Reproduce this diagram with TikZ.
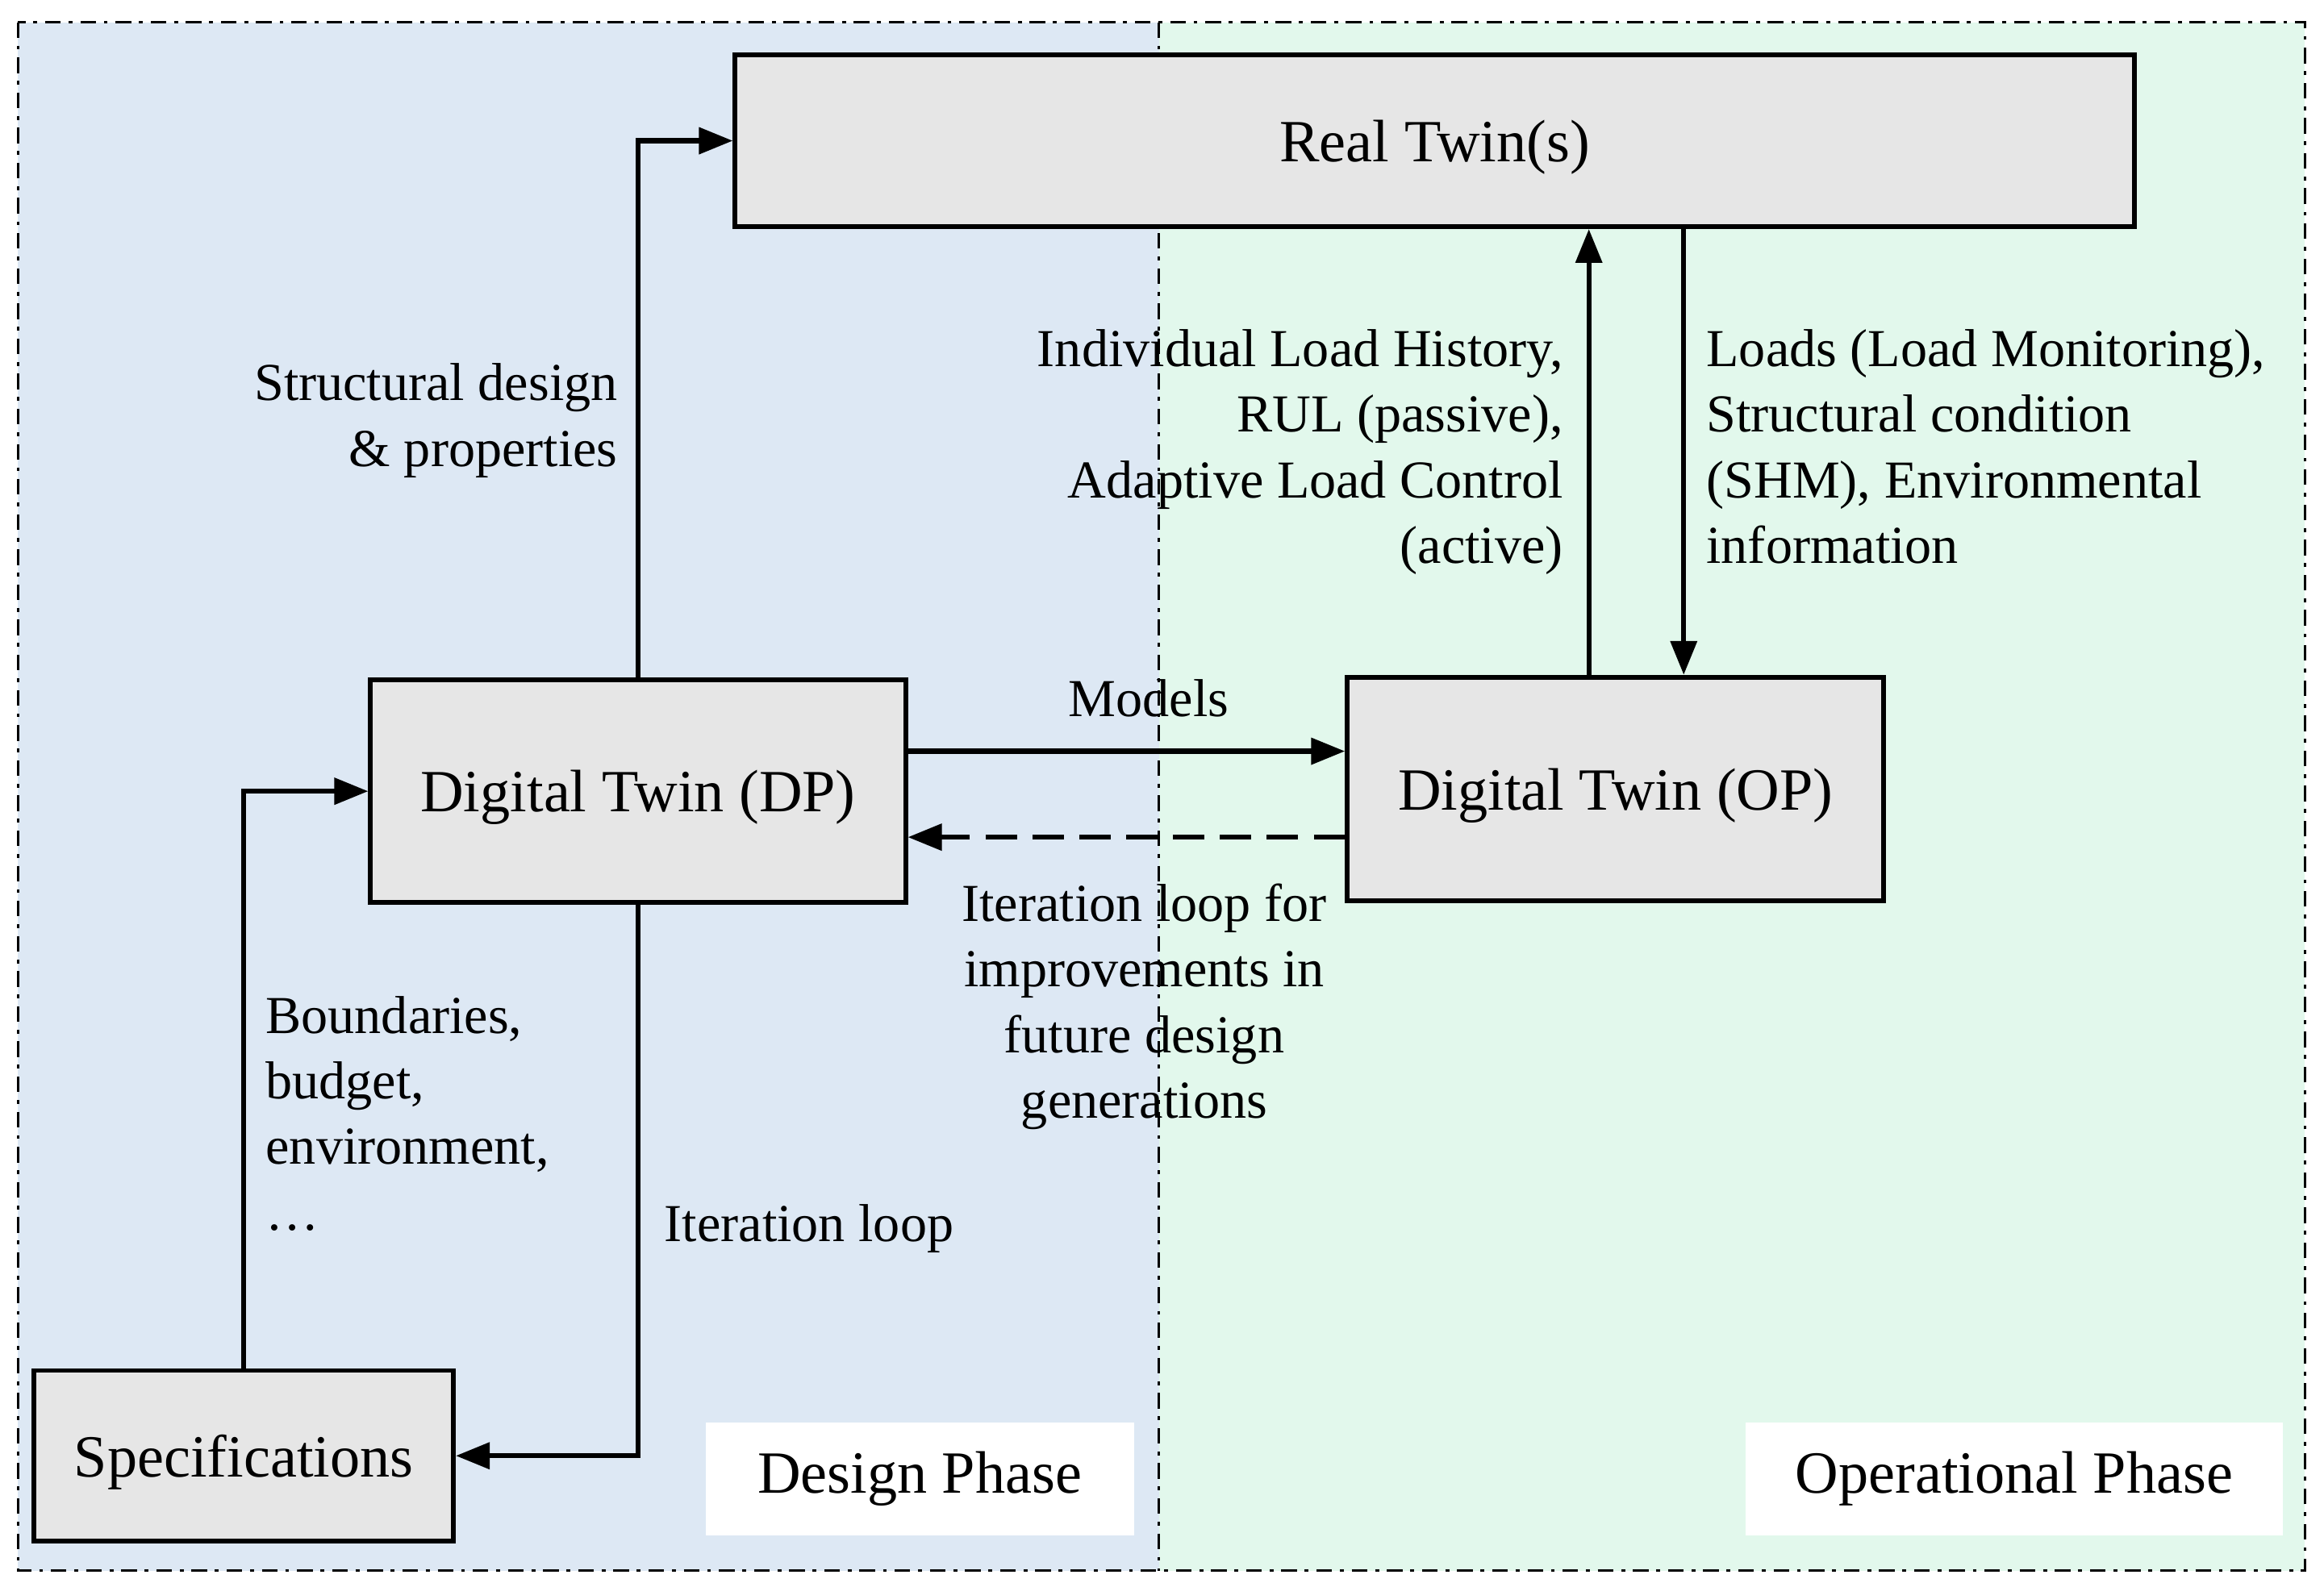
\documentclass[tikz,border=0pt]{standalone}
\usepackage{fontspec}
\setmainfont{Liberation Serif}
\usetikzlibrary{arrows.meta}
\definecolor{bluebg}{HTML}{DDE8F4}
\definecolor{greenbg}{HTML}{E2F8EC}
\definecolor{boxfill}{HTML}{E6E6E6}
\begin{document}
\begin{tikzpicture}[x=0.02cm,y=-0.02cm,
  box/.style={draw,line width=1.8pt,fill=boxfill,inner sep=0pt,font=\fontsize{23}{28}\selectfont,text depth=-2pt},
  arr/.style={line width=1.9pt,-{Triangle[length=13pt,width=10pt]}},
  lbl/.style={font=\fontsize{20.5}{25.2}\selectfont,inner sep=0pt},
  frame/.style={line width=0.9pt,dash pattern=on 6pt off 3pt on 1.5pt off 3pt}]
\useasboundingbox (0,0) rectangle (1568,1068);
\fill[bluebg] (12,15) rectangle (782,1060);
\fill[greenbg] (782,15) rectangle (1555,1060);
\draw[frame] (12,15) rectangle (1555,1060);
\draw[frame] (782,15) -- (782,1060);
\node[fill=white,minimum width=289*0.02cm,minimum height=76*0.02cm,inner sep=0pt,font=\fontsize{23}{28}\selectfont] (dph) at (620.5,998) {Design Phase};
\node[fill=white,minimum width=362*0.02cm,minimum height=76*0.02cm,inner sep=0pt,font=\fontsize{23}{28}\selectfont] (oph) at (1359,998) {Operational Phase};
\node[box,minimum width=944*0.02cm,minimum height=116*0.02cm] (rt) at (968,95) {Real Twin(s)};
\node[box,minimum width=361*0.02cm,minimum height=150*0.02cm] (dp) at (430.5,534) {Digital Twin (DP)};
\node[box,minimum width=362*0.02cm,minimum height=151*0.02cm] (op) at (1090,532.5) {Digital Twin (OP)};
\node[box,minimum width=283*0.02cm,minimum height=115*0.02cm] (sp) at (164.5,982.5) {Specifications};
\draw[arr] (dp.north) |- (rt.west);
\draw[arr] (sp.north) |- (dp.west);
\draw[arr] (dp.south) |- (sp.east);
\draw[arr] (dp.east |- 0,507) -- (op.west |- 0,507);
\draw[arr,dash pattern=on 12pt off 6pt] (op.west |- 0,565) -- (dp.east |- 0,565);
\draw[arr] (op.north -| 1072,0) -- (rt.south -| 1072,0);
\draw[arr] (rt.south -| 1136,0) -- (op.north -| 1136,0);
\node[lbl,align=right,anchor=north east] (l1) at (417,245) {Structural design\\\& properties};
\node[lbl,align=right,anchor=north east] (l2) at (1055,222) {Individual Load History,\\RUL (passive),\\Adaptive Load Control\\(active)};
\node[lbl,align=left,anchor=north west] (l3) at (1151,222) {Loads (Load Monitoring),\\Structural condition\\(SHM), Environmental\\information};
\node[lbl] (l4) at (775,471) {Models};
\node[lbl,align=center,anchor=north] (l5) at (772,596) {Iteration loop for\\improvements in\\future design\\generations};
\node[lbl,align=left,anchor=north west] (l6) at (179,672) {Boundaries,\\budget,\\environment,\\…};
\node[lbl,anchor=west] (l7) at (448,829) {Iteration loop};
\end{tikzpicture}
\end{document}
